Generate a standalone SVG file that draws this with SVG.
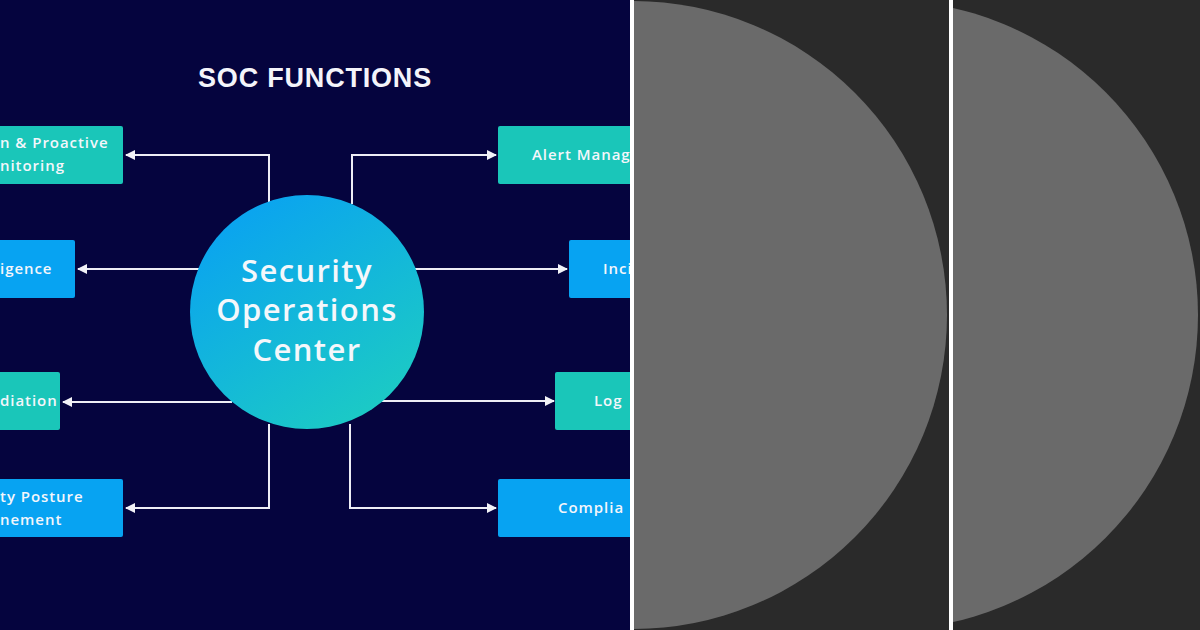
<svg xmlns="http://www.w3.org/2000/svg" width="1200" height="630" viewBox="0 0 1200 630">
  <defs>
    <linearGradient id="socGrad" x1="0.2" y1="0.05" x2="0.8" y2="0.95">
      <stop offset="0" stop-color="#0aa3f0"/>
      <stop offset="1" stop-color="#1ccbc4"/>
    </linearGradient>
    <marker id="arrow" viewBox="0 0 10 10" refX="9" refY="5" markerWidth="5" markerHeight="5" orient="auto-start-reverse" markerUnits="strokeWidth">
      <path d="M0,0 L10,5 L0,10 Z" fill="#f2f2f7"/>
    </marker>
    <clipPath id="leftPanel">
      <rect x="0" y="0" width="630" height="630"/>
    </clipPath>
    <clipPath id="midPanel">
      <rect x="634" y="0" width="315" height="630"/>
    </clipPath>
    <clipPath id="rightPanel">
      <rect x="953" y="0" width="247" height="630"/>
    </clipPath>
    <style>
      .teal { fill: #1ac6b9; }
      .blue { fill: #07a3f2; }
      .lbl { font-family: "Open Sans", "DejaVu Sans", sans-serif; font-weight: 600; font-size: 15px; fill: #f4f6fb; letter-spacing: 0.95px; }
      .conn { fill: none; stroke: #eeeef5; stroke-width: 2; }
      .title { font-family: "Liberation Sans", Arial, sans-serif; font-weight: 700; font-size: 27px; fill: #f4f4fa; letter-spacing: 0.8px; }
      .hub { font-family: "Open Sans", "DejaVu Sans", sans-serif; font-weight: 600; font-size: 31px; fill: #f4f7fb; letter-spacing: 1.4px; }
    </style>
  </defs>

  <!-- left panel -->
  <g clip-path="url(#leftPanel)">
    <rect x="0" y="0" width="630" height="630" fill="#05043e"/>
    <text class="title" x="315" y="87" text-anchor="middle">SOC FUNCTIONS</text>

    <g id="connectors">
      <polyline class="conn" points="269,204 269,155 126,155" marker-end="url(#arrow)"/>
      <line class="conn" x1="200" y1="269" x2="78" y2="269" marker-end="url(#arrow)"/>
      <line class="conn" x1="232" y1="402" x2="63" y2="402" marker-end="url(#arrow)"/>
      <polyline class="conn" points="269,424 269,508 126,508" marker-end="url(#arrow)"/>
      <polyline class="conn" points="352,204 352,155 496,155" marker-end="url(#arrow)"/>
      <line class="conn" x1="414" y1="269" x2="567" y2="269" marker-end="url(#arrow)"/>
      <line class="conn" x1="382" y1="401" x2="554" y2="401" marker-end="url(#arrow)"/>
      <polyline class="conn" points="350,424 350,508 496,508" marker-end="url(#arrow)"/>
    </g>

    <g id="hub">
      <circle cx="307" cy="312" r="117" fill="url(#socGrad)"/>
      <text class="hub" x="307" y="282" text-anchor="middle">Security</text>
      <text class="hub" x="307" y="321" text-anchor="middle">Operations</text>
      <text class="hub" x="307" y="361" text-anchor="middle">Center</text>
    </g>

    <g id="node-left-1">
      <rect class="teal" x="-80" y="126" width="203" height="58" rx="2"/>
      <text class="lbl" x="0" y="148">n &amp; Proactive</text>
      <text class="lbl" x="0" y="171">nitoring</text>
    </g>
    <g id="node-left-2">
      <rect class="blue" x="-80" y="240" width="155" height="58" rx="2"/>
      <text class="lbl" x="0" y="274">igence</text>
    </g>
    <g id="node-left-3">
      <rect class="teal" x="-80" y="372" width="140" height="58" rx="2"/>
      <text class="lbl" x="0" y="406">diation</text>
    </g>
    <g id="node-left-4">
      <rect class="blue" x="-80" y="479" width="203" height="58" rx="2"/>
      <text class="lbl" x="0" y="502">ty Posture</text>
      <text class="lbl" x="0" y="525">nement</text>
    </g>

    <g id="node-right-1">
      <rect class="teal" x="498" y="126" width="200" height="58" rx="2"/>
      <text class="lbl" x="532" y="160">Alert Manag</text>
    </g>
    <g id="node-right-2">
      <rect class="blue" x="569" y="240" width="140" height="58" rx="2"/>
      <text class="lbl" x="603" y="274">Inci</text>
    </g>
    <g id="node-right-3">
      <rect class="teal" x="555" y="372" width="160" height="58" rx="2"/>
      <text class="lbl" x="594" y="406">Log</text>
    </g>
    <g id="node-right-4">
      <rect class="blue" x="498" y="479" width="200" height="58" rx="2"/>
      <text class="lbl" x="558" y="513">Complia</text>
    </g>
  </g>

  <!-- separators and gray panels -->
  <rect x="630" y="0" width="4" height="630" fill="#ffffff"/>
  <g clip-path="url(#midPanel)">
    <rect x="634" y="0" width="315" height="630" fill="#2a2a2a"/>
    <circle cx="633" cy="315" r="314" fill="#6a6a6a"/>
  </g>
  <rect x="949" y="0" width="4" height="630" fill="#ffffff"/>
  <g clip-path="url(#rightPanel)">
    <rect x="953" y="0" width="247" height="630" fill="#2a2a2a"/>
    <circle cx="883" cy="315" r="315" fill="#6a6a6a"/>
  </g>
</svg>
